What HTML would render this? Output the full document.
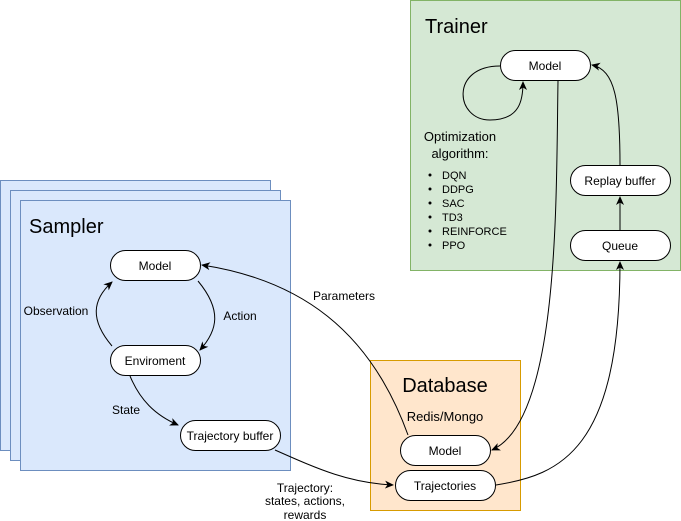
<!DOCTYPE html>
<html><head><style>
body{margin:0;background:#fff;}
svg{display:block;font-family:"Liberation Sans",Helvetica,sans-serif;}
</style></head><body>
<svg width="681" height="521" viewBox="0 0 681 521" xmlns="http://www.w3.org/2000/svg">
<defs>
<marker id="a" markerWidth="10" markerHeight="10" refX="8" refY="5" orient="auto" markerUnits="userSpaceOnUse">
<path d="M0,1 L9,5 L0,9 L2.5,5 Z" fill="#000"/>
</marker>
</defs>
<rect x="410.5" y="0.5" width="270" height="270" fill="#d5e8d4" stroke="#82b366"/>
<text x="425" y="33" font-size="20">Trainer</text>
<rect x="0.5" y="180.5" width="270" height="270" fill="#dae8fc" stroke="#6c8ebf"/>
<rect x="10.5" y="190.5" width="270" height="270" fill="#dae8fc" stroke="#6c8ebf"/>
<rect x="20.5" y="200.5" width="270" height="270" fill="#dae8fc" stroke="#6c8ebf"/>
<text x="29" y="233" font-size="20">Sampler</text>
<rect x="370.5" y="360.5" width="150" height="150" fill="#ffe6cc" stroke="#d79b00"/>
<text x="445" y="392" font-size="20" text-anchor="middle">Database</text>
<text x="445" y="421" font-size="13" text-anchor="middle">Redis/Mongo</text>

<g fill="#fff" stroke="#000">
<rect x="500.5" y="50.5" width="90" height="30" rx="15"/>
<rect x="570.5" y="165.5" width="100" height="30" rx="15"/>
<rect x="570.5" y="230.5" width="100" height="30" rx="15"/>
<rect x="110.5" y="250.5" width="90" height="30" rx="15"/>
<rect x="110.5" y="345.5" width="90" height="30" rx="15"/>
<rect x="180.5" y="420.5" width="100" height="30" rx="15"/>
<rect x="400.5" y="435.5" width="90" height="30" rx="15"/>
<rect x="395.5" y="470.5" width="100" height="30" rx="15"/>
</g>
<g font-size="12" text-anchor="middle">
<text x="545" y="70">Model</text>
<text x="620" y="185">Replay buffer</text>
<text x="620" y="250">Queue</text>
<text x="155" y="270">Model</text>
<text x="155" y="365">Enviroment</text>
<text x="230" y="440">Trajectory buffer</text>
<text x="445" y="455">Model</text>
<text x="445" y="490">Trajectories</text>
</g>
<g font-size="12">
<text x="56" y="315" text-anchor="middle">Observation</text>
<text x="240" y="320" text-anchor="middle">Action</text>
<text x="126" y="414" text-anchor="middle">State</text>
<text x="344" y="300" text-anchor="middle">Parameters</text>
<text x="305" y="492" text-anchor="middle">Trajectory:</text>
<text x="305" y="505" text-anchor="middle">states, actions,</text>
<text x="305" y="519" text-anchor="middle">rewards</text>
</g>
<g font-size="13">
<text x="460" y="141" text-anchor="middle">Optimization</text>
<text x="460" y="158" text-anchor="middle">algorithm:</text>
</g>
<g font-size="11">
<text x="442" y="179">DQN</text>
<text x="442" y="193">DDPG</text>
<text x="442" y="207">SAC</text>
<text x="442" y="221">TD3</text>
<text x="442" y="235">REINFORCE</text>
<text x="442" y="249">PPO</text>
</g>
<g fill="#000">
<circle cx="430" cy="175" r="1.5"/><circle cx="430" cy="189" r="1.5"/><circle cx="430" cy="203" r="1.5"/>
<circle cx="430" cy="217" r="1.5"/><circle cx="430" cy="231" r="1.5"/><circle cx="430" cy="245" r="1.5"/>
</g>
<g fill="none" stroke="#000" marker-end="url(#a)">
<path d="M500,66 C450,66 455,120 490,120 C520,120 523,100 523,82"/>
<path d="M620,165 C620,100 615,70 592,65"/>
<path d="M620,230 L620,197"/>
<path d="M496,485 C560,475 620,450 620,262"/>
<path d="M558,81 C556,200 560,420 492,450"/>
<path d="M408,435 C370,330 300,280 202,265"/>
<path d="M198,281 C222,310 218,330 200,350"/>
<path d="M112,346 C90,320 92,300 112,282"/>
<path d="M130,376 C140,400 155,415 178,425"/>
<path d="M275,450 C320,470 350,483 393,485"/>
</g>
</svg>
</body></html>
